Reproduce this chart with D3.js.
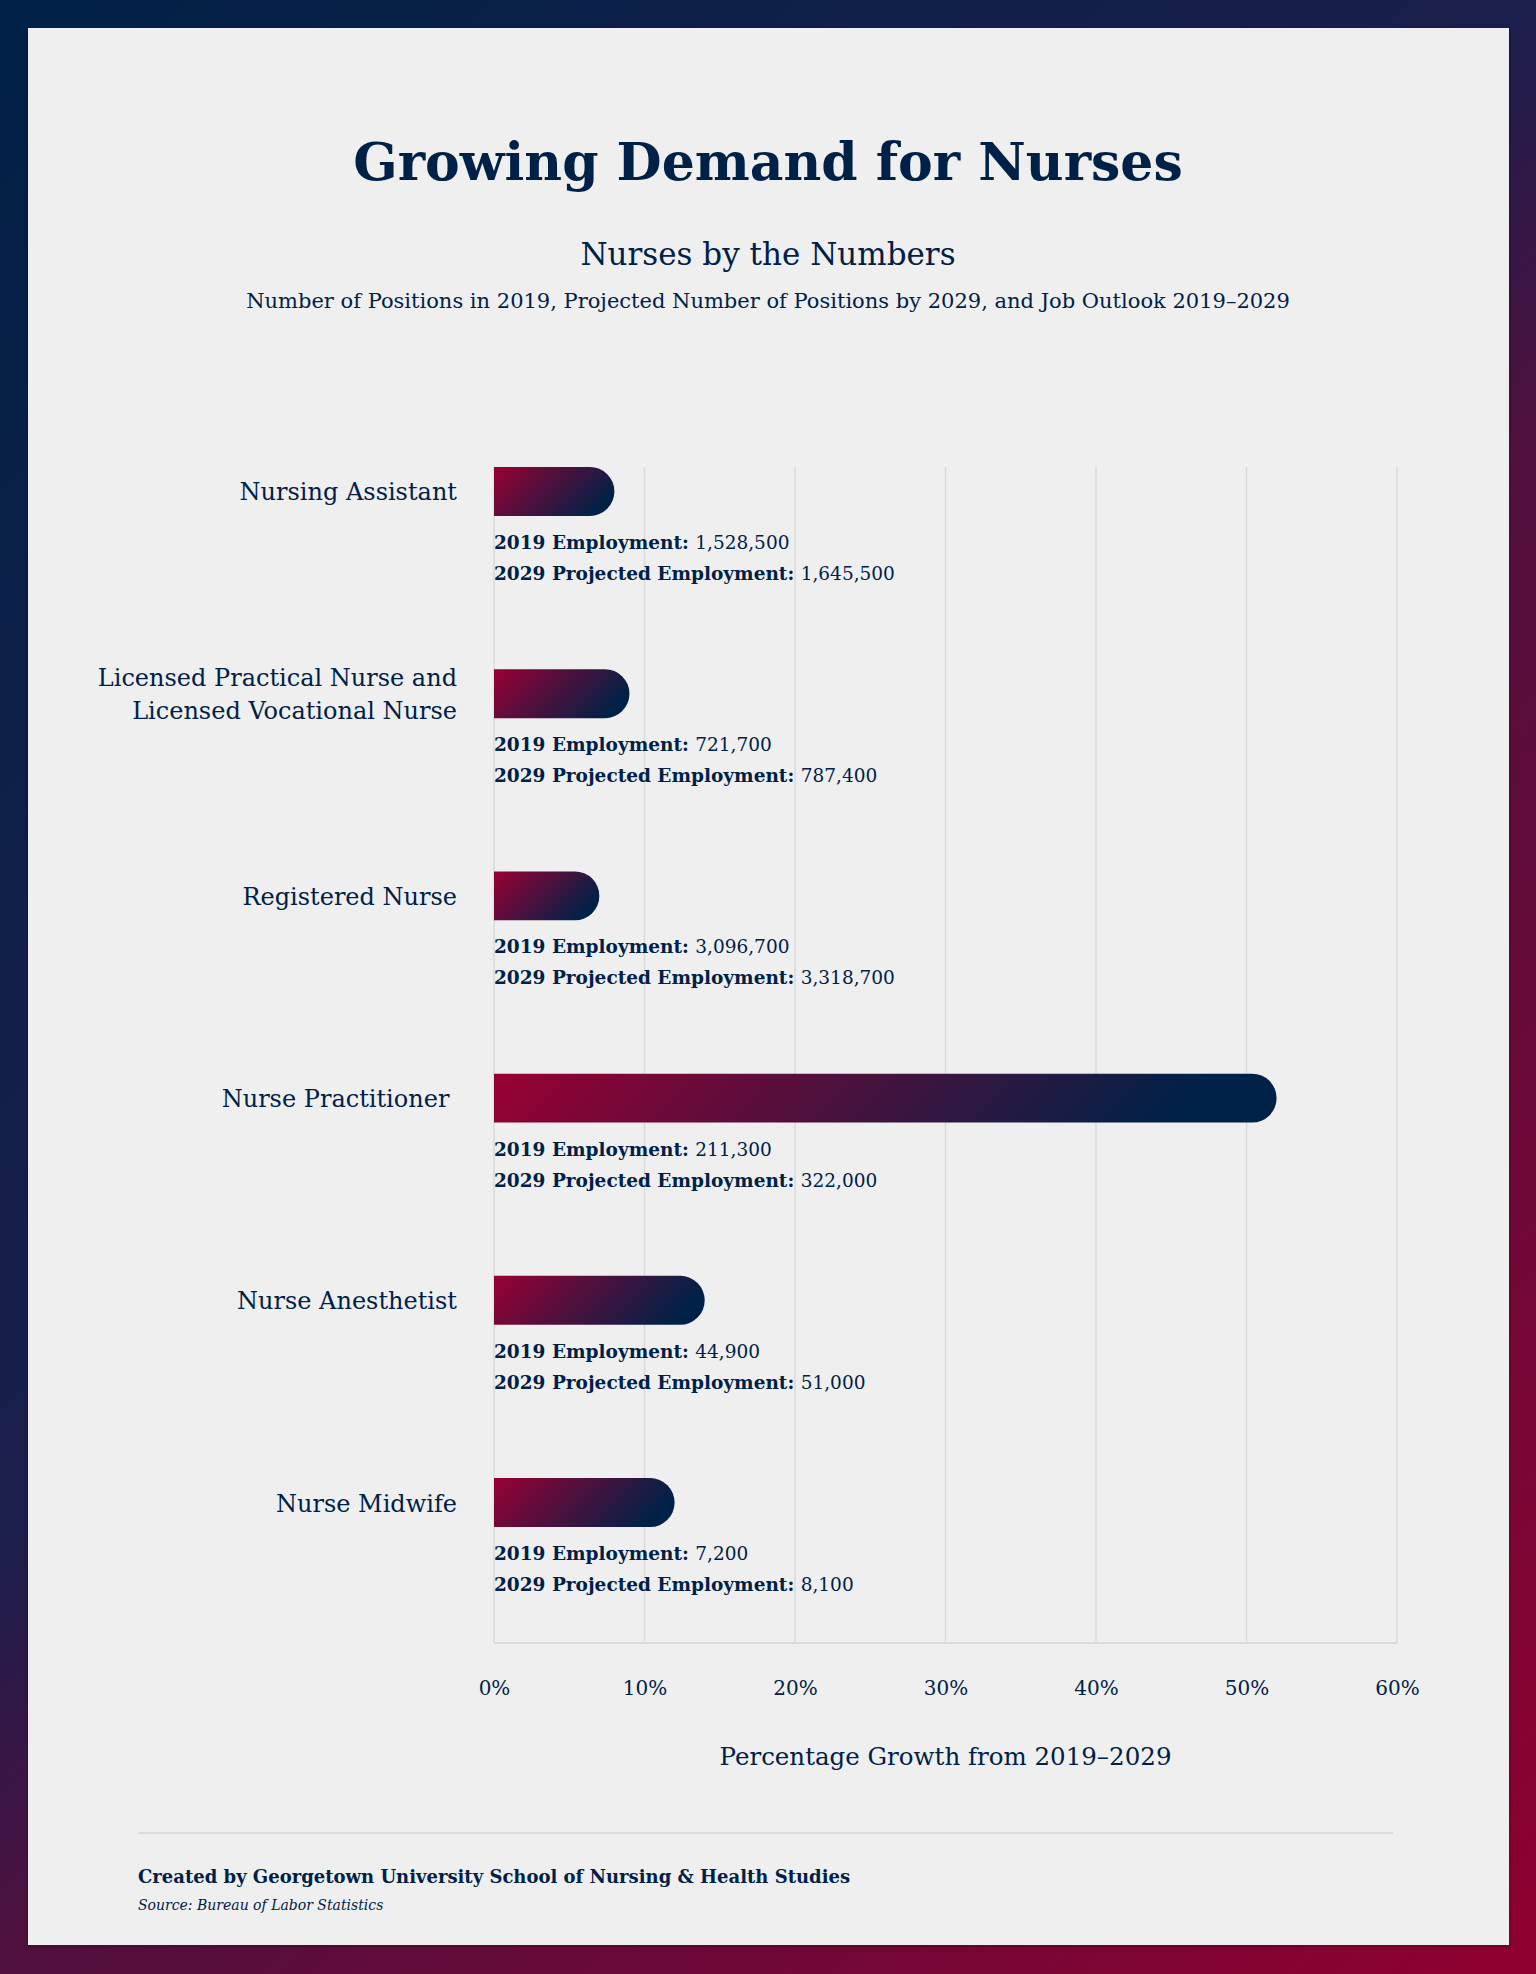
<!DOCTYPE html>
<html>
<head>
<meta charset="utf-8">
<script src="https://cdn.jsdelivr.net/npm/d3@7"></script>
<style>
  html, body { margin: 0; padding: 0; }
  body { width: 1536px; height: 1974px; overflow: hidden; }
  svg { display: block; font-family: "DejaVu Serif", Georgia, serif; }
</style>
</head>
<body>
<div id="chart"></div>
<script>
// Data
var categories = ['Nursing Assistant', 'Licensed Practical Nurse and Licensed Vocational Nurse', 'Registered Nurse', 'Nurse Practitioner', 'Nurse Anesthetist', 'Nurse Midwife'];
var labelLines = [['Nursing Assistant'], ['Licensed Practical Nurse and', 'Licensed Vocational Nurse'], ['Registered Nurse'], ['Nurse Practitioner '], ['Nurse Anesthetist'], ['Nurse Midwife']];
var growthPct = [8, 9, 7, 52, 14, 12];
var employment2019 = [1528500, 721700, 3096700, 211300, 44900, 7200];
var employment2029 = [1645500, 787400, 3318700, 322000, 51000, 8100];
var xTicks = [0, 10, 20, 30, 40, 50, 60];

var W = 1536, H = 1974;
var navy = '#002147', crimson = '#990033';
var fmt = d3.format(',');

var svg = d3.select('#chart').append('svg')
  .attr('width', W)
  .attr('height', H)
  .attr('viewBox', [0, 0, W, H]);

var defs = svg.append('defs');

// Page background: 135deg navy -> crimson
var bg = defs.append('linearGradient')
  .attr('id', 'bg-grad')
  .attr('gradientUnits', 'userSpaceOnUse')
  .attr('x1', -110).attr('y1', 110)
  .attr('x2', 1646).attr('y2', 1864);
[[0, '#002147'], [0.44, '#1b1e4c'], [0.56, '#50103e'], [1, '#900030']].forEach(function (s) {
  bg.append('stop').attr('offset', s[0]).attr('stop-color', s[1]);
});

var shadow = defs.append('filter').attr('id', 'panel-shadow')
  .attr('x', -0.05).attr('y', -0.05).attr('width', 1.1).attr('height', 1.1);
shadow.append('feDropShadow')
  .attr('dx', 0).attr('dy', 1).attr('stdDeviation', 2)
  .attr('flood-color', '#000').attr('flood-opacity', 0.35);

svg.append('rect').attr('width', W).attr('height', H).attr('fill', 'url(#bg-grad)');

svg.append('rect')
  .attr('x', 28).attr('y', 28)
  .attr('width', 1481).attr('height', 1917)
  .attr('fill', '#efefef')
  .attr('filter', 'url(#panel-shadow)');

// Titles
svg.append('text')
  .attr('x', 768).attr('y', 180)
  .attr('text-anchor', 'middle')
  .attr('font-size', 52)
  .attr('font-weight', 'bold')
  .attr('fill', navy)
  .text('Growing Demand for Nurses');

svg.append('text')
  .attr('x', 768).attr('y', 265)
  .attr('text-anchor', 'middle')
  .attr('font-size', 31)
  .attr('fill', navy)
  .text('Nurses by the Numbers');

svg.append('text')
  .attr('x', 768).attr('y', 308)
  .attr('text-anchor', 'middle')
  .attr('font-size', 21)
  .attr('fill', navy)
  .text('Number of Positions in 2019, Projected Number of Positions by 2029, and Job Outlook 2019\u20132029');

// Scales
var x = d3.scaleLinear().domain([0, 60]).range([494, 1397]);
var y = d3.scaleBand()
  .domain(categories)
  .range([467, 1527])
  .paddingInner(0.758)
  .paddingOuter(0)
  .align(0);

var gridTop = 467, gridBottom = 1643;
var gridColor = '#dadada';

// Gridlines
svg.append('g')
  .selectAll('line')
  .data(xTicks)
  .join('line')
  .attr('x1', function (d) { return x(d); })
  .attr('x2', function (d) { return x(d); })
  .attr('y1', gridTop)
  .attr('y2', gridBottom)
  .attr('stroke', gridColor)
  .attr('stroke-width', 1.5);

svg.append('line')
  .attr('x1', x(0)).attr('x2', x(60))
  .attr('y1', gridBottom).attr('y2', gridBottom)
  .attr('stroke', gridColor)
  .attr('stroke-width', 2);

// Tick labels
var xAxis = svg.append('g')
  .attr('transform', 'translate(0,1695)')
  .call(d3.axisBottom(x).tickValues(xTicks).tickSize(0).tickPadding(0).tickFormat(function (d) { return d + '%'; }));
xAxis.select('.domain').remove();
xAxis.selectAll('text')
  .attr('dy', 0)
  .attr('y', 0)
  .attr('font-family', '"DejaVu Serif", Georgia, serif')
  .attr('font-size', 20)
  .attr('fill', navy);

svg.append('text')
  .attr('x', (x(0) + x(60)) / 2).attr('y', 1765)
  .attr('text-anchor', 'middle')
  .attr('font-size', 24.5)
  .attr('fill', navy)
  .text('Percentage Growth from 2019\u20132029');

// Bars
var rows = categories.map(function (c, i) {
  return { name: c, lines: labelLines[i], pct: growthPct[i], e19: employment2019[i], e29: employment2029[i], i: i };
});

// one gradient per bar, running at 45deg from the top-left corner
rows.forEach(function (d) {
  var x0 = x(0), y0 = y(d.name), w = x(d.pct) - x0, h = y.bandwidth();
  var span = 0.86 * (w + h) / 2;
  var g = defs.append('linearGradient')
    .attr('id', 'bar-grad-' + d.i)
    .attr('gradientUnits', 'userSpaceOnUse')
    .attr('x1', x0).attr('y1', y0)
    .attr('x2', x0 + span).attr('y2', y0 + span);
  g.append('stop').attr('offset', 0).attr('stop-color', crimson);
  g.append('stop').attr('offset', 1).attr('stop-color', navy);
});

function barPath(d) {
  var x0 = x(0), x1 = x(d.pct), y0 = y(d.name), h = y.bandwidth(), r = h / 2;
  return 'M' + x0 + ',' + y0 +
    'H' + (x1 - r) +
    'A' + r + ',' + r + ' 0 0 1 ' + (x1 - r) + ',' + (y0 + h) +
    'H' + x0 + 'Z';
}

svg.append('g')
  .selectAll('path')
  .data(rows)
  .join('path')
  .attr('d', barPath)
  .attr('fill', function (d) { return 'url(#bar-grad-' + d.i + ')'; });

// Category labels
var lineH = 33;
svg.append('g')
  .selectAll('text')
  .data(rows)
  .join('text')
  .attr('text-anchor', 'end')
  .attr('font-size', 24)
  .attr('fill', navy)
  .style('white-space', 'pre')
  .each(function (d) {
    var cy = y(d.name) + y.bandwidth() / 2;
    var n = d.lines.length;
    var first = cy + 9 - (n - 1) * lineH / 2;
    d3.select(this).selectAll('tspan')
      .data(d.lines)
      .join('tspan')
      .attr('x', 457)
      .attr('y', function (l, j) { return first + j * lineH; })
      .text(function (l) { return l; });
  });

// Employment notes
var notes = svg.append('g')
  .selectAll('g')
  .data(rows)
  .join('g')
  .attr('font-size', 18.5)
  .attr('fill', navy);

notes.append('text')
  .attr('x', x(0))
  .attr('y', function (d) { return y(d.name) + 82; })
  .call(function (t) {
    t.append('tspan').attr('font-weight', 'bold').text('2019 Employment: ');
    t.append('tspan').text(function (d) { return fmt(d.e19); });
  });

notes.append('text')
  .attr('x', x(0))
  .attr('y', function (d) { return y(d.name) + 113; })
  .call(function (t) {
    t.append('tspan').attr('font-weight', 'bold').text('2029 Projected Employment: ');
    t.append('tspan').text(function (d) { return fmt(d.e29); });
  });

// Footer
svg.append('line')
  .attr('x1', 138).attr('x2', 1393)
  .attr('y1', 1833).attr('y2', 1833)
  .attr('stroke', '#dcdcdc')
  .attr('stroke-width', 2);

svg.append('text')
  .attr('x', 138).attr('y', 1883)
  .attr('font-size', 18)
  .attr('font-weight', 'bold')
  .attr('fill', navy)
  .text('Created by Georgetown University School of Nursing & Health Studies');

svg.append('text')
  .attr('x', 138).attr('y', 1910)
  .attr('font-size', 14)
  .attr('font-style', 'italic')
  .attr('fill', navy)
  .text('Source: Bureau of Labor Statistics');
</script>
</body>
</html>
